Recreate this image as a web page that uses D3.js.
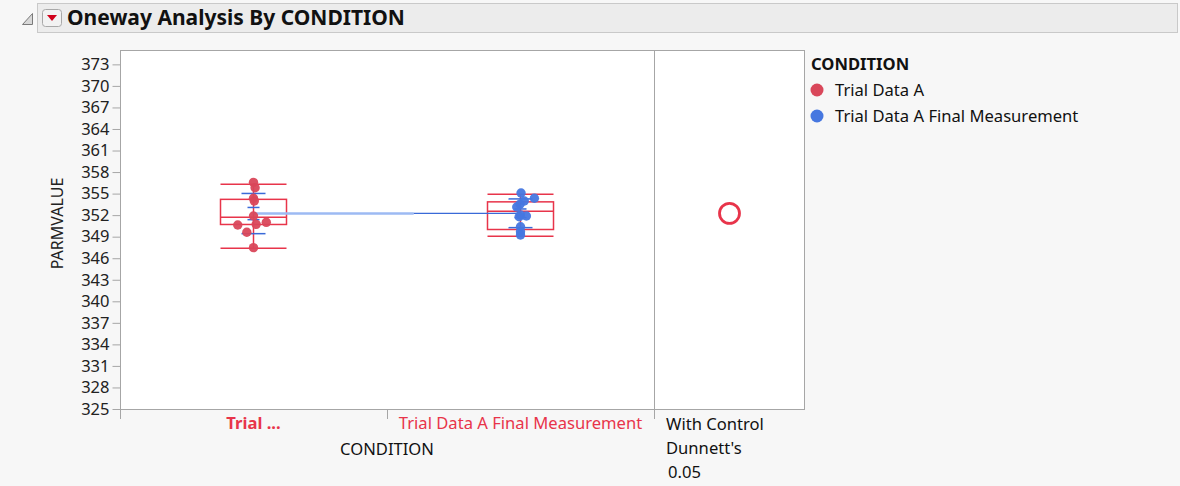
<!DOCTYPE html>
<html>
<head>
<meta charset="utf-8">
<script src="https://cdn.jsdelivr.net/npm/d3@7"></script>
<style>
  body { margin:0; background:#f7f7f7; font-family:"Noto Sans", sans-serif; }
  svg { display:block; }
</style>
</head>
<body>
<svg id="chart" width="1180" height="486"></svg>
<script>
// data
const categories = ["Trial Data A", "Trial Data A Final Measurement"];
const axisLabels = ["Trial ...", "Trial Data A Final Measurement"];
const valuesA = [356.57, 355.82, 354.35, 353.97, 351.88, 350.63, 350.72, 351.0, 349.61, 347.47];
const jitterA = [0, 0.006, 0, 0.003, 0, -0.059, 0.01, 0.048, -0.025, 0];
const valuesB = [355.08, 353.97, 354.35, 353.51, 353.13, 352.02, 351.88, 351.78, 350.39, 349.69, 349.23];
const jitterB = [0.002, 0.014, 0.052, -0.002, -0.014, 0, 0.022, -0.005, 0, 0, 0];
const boxLow = [347.4, 349.05];
const boxQ1 = [350.7, 350.0];
const boxMed = [351.7, 352.55];
const boxQ3 = [354.2, 353.85];
const boxHigh = [356.3, 354.9];
const means = [352.22, 352.26];
const stdDev = [2.8, 2.0];
const stdErr = [0.85, 0.6];
const yTicks = [325, 328, 331, 334, 337, 340, 343, 346, 349, 352, 355, 358, 361, 364, 367, 370, 373];
const compareMean = 352.25;

const red = "#e8344a", ptRed = "#d9475a", ptBlue = "#4677e0", lineBlue = "#3a6ad8";
const svg = d3.select("#chart");

// header bar
svg.append("rect").attr("x", 37.5).attr("y", 3.5).attr("width", 1140).attr("height", 29)
  .attr("fill", "#ececec").attr("stroke", "#c9c9c9");
svg.append("path").attr("d", "M22.5,24.5 L32.5,24.5 L32.5,13.5 Z")
  .attr("fill", "#d8d8d8").attr("stroke", "#7a7a7a");
svg.append("rect").attr("x", 42.5).attr("y", 9.5).attr("width", 19).attr("height", 17).attr("rx", 3)
  .attr("fill", "#f2f2f2").attr("stroke", "#a8a8a8");
svg.append("path").attr("d", "M47,15 L57,15 L52,21 Z").attr("fill", "#d0001a");
svg.append("text").attr("x", 67).attr("y", 25).attr("font-size", 21).attr("font-weight", "bold")
  .attr("fill", "#111").text("Oneway Analysis By CONDITION");

const pLeft = 120, mainRight = 654, pRight = 804, pTop = 50, pBottom = 409;
const x = d3.scaleBand().domain(categories).range([pLeft, mainRight]);
const y = d3.scaleLinear().domain([325, 375]).range([pBottom, pTop]);

// plot frames
svg.append("rect").attr("x", pLeft + 0.5).attr("y", pTop + 0.5)
  .attr("width", pRight - pLeft).attr("height", pBottom - pTop)
  .attr("fill", "#fff").attr("stroke", "#a6a6a6");
svg.append("line").attr("x1", mainRight + 0.5).attr("x2", mainRight + 0.5)
  .attr("y1", pTop).attr("y2", pBottom + 10).attr("stroke", "#a6a6a6");

// y axis
const yAxis = svg.append("g").attr("transform", `translate(${pLeft + 0.5},0)`)
  .call(d3.axisLeft(y).tickValues(yTicks).tickSize(8).tickPadding(3));
yAxis.select(".domain").remove();
yAxis.selectAll("line").attr("stroke", "#a6a6a6");
yAxis.selectAll("text").attr("font-size", 16.5).attr("font-family", "Noto Sans").attr("fill", "#222");

svg.append("text").attr("transform", `translate(63,${(pTop + pBottom) / 2 - 6}) rotate(-90)`)
  .attr("text-anchor", "middle").attr("font-size", 16).attr("fill", "#222").text("PARMVALUE");

// x axis ticks and labels
const xAxis = svg.append("g").attr("transform", `translate(0,${pBottom + 0.5})`)
  .call(d3.axisBottom(x).tickSize(0).tickPadding(8).tickFormat((d, i) => axisLabels[i]));
xAxis.select(".domain").remove();
xAxis.selectAll("text").attr("font-size", 16.6).attr("font-family", "Noto Sans").attr("fill", red)
  .attr("font-weight", (d, i) => i === 0 ? "bold" : "normal");
[pLeft, pLeft + x.bandwidth(), mainRight].forEach(t => {
  svg.append("line").attr("x1", t + 0.5).attr("x2", t + 0.5).attr("y1", pBottom).attr("y2", pBottom + 10)
    .attr("stroke", "#a6a6a6");
});
svg.append("text").attr("x", (pLeft + mainRight) / 2).attr("y", 455).attr("text-anchor", "middle")
  .attr("font-size", 16.6).attr("fill", "#111").text("CONDITION");
const dunnett = ["With Control", "Dunnett's", "0.05"];
svg.append("g").selectAll("text").data(dunnett).enter().append("text")
  .attr("x", (d, i) => i === 2 ? 668 : 666).attr("y", (d, i) => 430 + i * 24)
  .attr("font-size", 16.6).attr("fill", "#111").text(d => d);

// box plots
const boxW = 66;
const boxes = svg.append("g");
categories.forEach((c, i) => {
  const cx = x(c) + x.bandwidth() / 2;
  boxes.append("line").attr("x1", cx).attr("x2", cx).attr("y1", y(boxLow[i])).attr("y2", y(boxHigh[i]))
    .attr("stroke", red).attr("stroke-width", 1.5);
  boxes.append("rect").attr("x", cx - boxW / 2).attr("width", boxW)
    .attr("y", y(boxQ3[i])).attr("height", y(boxQ1[i]) - y(boxQ3[i]))
    .attr("fill", "none").attr("stroke", red).attr("stroke-width", 1.5);
  [boxLow[i], boxHigh[i], boxMed[i]].forEach(v => {
    boxes.append("line").attr("x1", cx - boxW / 2).attr("x2", cx + boxW / 2).attr("y1", y(v)).attr("y2", y(v))
      .attr("stroke", red).attr("stroke-width", 1.5);
  });
  // std dev lines and error bars
  [means[i] + stdDev[i], means[i] - stdDev[i]].forEach(v => {
    boxes.append("line").attr("x1", cx - 12).attr("x2", cx + 12).attr("y1", y(v)).attr("y2", y(v))
      .attr("stroke", lineBlue).attr("stroke-width", 1.5);
  });
  [means[i] + stdErr[i], means[i] - stdErr[i]].forEach(v => {
    boxes.append("line").attr("x1", cx - 6).attr("x2", cx + 6).attr("y1", y(v)).attr("y2", y(v))
      .attr("stroke", lineBlue).attr("stroke-width", 1.5);
  });
});

// connect means
const cA = x(categories[0]) + x.bandwidth() / 2, cB = x(categories[1]) + x.bandwidth() / 2;
const midX = cA + (cB - cA) * 0.6;
svg.append("line").attr("x1", cA).attr("x2", midX).attr("y1", y(means[0])).attr("y2", y(d3.mean(means)))
  .attr("stroke", "#9dbaf3").attr("stroke-width", 2.5);
svg.append("line").attr("x1", midX).attr("x2", cB).attr("y1", y(d3.mean(means))).attr("y2", y(means[1]))
  .attr("stroke", lineBlue).attr("stroke-width", 1.3);

// points
const pts = svg.append("g");
pts.selectAll(".pa").data(valuesA).enter().append("circle").attr("class", "pa")
  .attr("cx", (d, i) => cA + jitterA[i] * x.bandwidth()).attr("cy", d => y(d)).attr("r", 4.7)
  .attr("fill", ptRed).attr("fill-opacity", 0.95);
pts.selectAll(".pb").data(valuesB).enter().append("circle").attr("class", "pb")
  .attr("cx", (d, i) => cB + jitterB[i] * x.bandwidth()).attr("cy", d => y(d)).attr("r", 4.7)
  .attr("fill", ptBlue).attr("fill-opacity", 0.95);

// comparison circle
svg.append("circle").attr("cx", (mainRight + pRight) / 2 + 0.5).attr("cy", y(compareMean)).attr("r", 10)
  .attr("fill", "none").attr("stroke", red).attr("stroke-width", 2.8);

// legend
const legend = svg.append("g");
legend.append("text").attr("x", 811).attr("y", 70).attr("font-size", 16.6).attr("font-weight", "bold")
  .attr("fill", "#111").text("CONDITION");
const legColors = [ptRed, ptBlue];
const li = legend.selectAll(".li").data(categories).enter().append("g").attr("class", "li")
  .attr("transform", (d, i) => `translate(0,${90 + i * 26})`);
li.append("circle").attr("cx", 817).attr("cy", 0).attr("r", 6.5).attr("fill", (d, i) => legColors[i]);
li.append("text").attr("x", 835).attr("y", 6).attr("font-size", 16.6).attr("fill", "#111").text(d => d);
</script>
</body>
</html>
